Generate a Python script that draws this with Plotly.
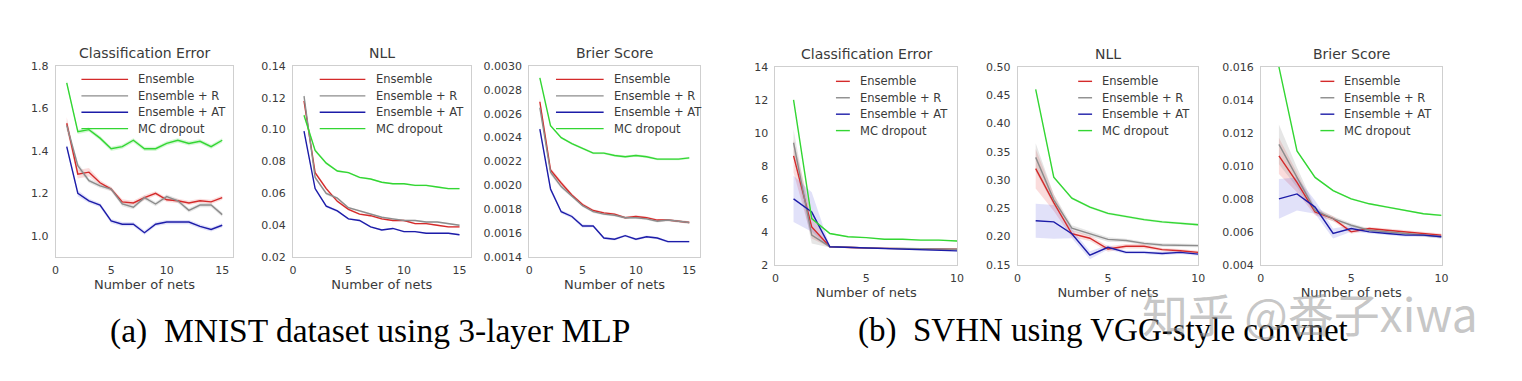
import plotly.graph_objects as go

W, H = 1522, 381

# ---------------- data ----------------
mnist_x = list(range(1, 16))
svhn_x = list(range(1, 11))
series_names = ["Ensemble", "Ensemble + R", "Ensemble + AT", "MC dropout"]

# MNIST classification error
mn_err_ens = [1.53, 1.29, 1.30, 1.25, 1.22, 1.16, 1.155, 1.18, 1.20, 1.17, 1.165, 1.155, 1.165, 1.16, 1.18]
mn_err_r = [1.52, 1.33, 1.26, 1.235, 1.22, 1.15, 1.135, 1.18, 1.15, 1.185, 1.165, 1.12, 1.145, 1.145, 1.10]
mn_err_at = [1.42, 1.20, 1.165, 1.145, 1.07, 1.055, 1.055, 1.015, 1.055, 1.065, 1.065, 1.065, 1.045, 1.03, 1.05]
mn_err_mc = [1.72, 1.49, 1.50, 1.46, 1.41, 1.42, 1.45, 1.41, 1.41, 1.435, 1.45, 1.435, 1.445, 1.42, 1.45]
mn_err_ens_sd = [0.03, 0.02, 0.02, 0.012, 0.01, 0.012, 0.01, 0.012, 0.01, 0.01, 0.01, 0.01, 0.01, 0.01, 0.01]
mn_err_r_sd = [0.02, 0.015, 0.01, 0.01, 0.01, 0.01, 0.01, 0.01, 0.01, 0.01, 0.01, 0.01, 0.01, 0.01, 0.01]
mn_err_at_sd = [0.01, 0.015, 0.01, 0.01, 0.01, 0.01, 0.01, 0.01, 0.01, 0.01, 0.01, 0.01, 0.01, 0.01, 0.01]
mn_err_mc_sd = [0.01, 0.01, 0.01, 0.01, 0.01, 0.01, 0.01, 0.01, 0.01, 0.01, 0.01, 0.01, 0.01, 0.01, 0.01]

# MNIST NLL
mn_nll_ens = [0.118, 0.073, 0.063, 0.055, 0.050, 0.047, 0.046, 0.044, 0.043, 0.043, 0.041, 0.041, 0.040, 0.039, 0.039]
mn_nll_r = [0.121, 0.070, 0.060, 0.057, 0.051, 0.049, 0.047, 0.045, 0.044, 0.043, 0.043, 0.042, 0.042, 0.041, 0.040]
mn_nll_at = [0.099, 0.063, 0.052, 0.049, 0.044, 0.043, 0.039, 0.037, 0.038, 0.036, 0.036, 0.035, 0.035, 0.035, 0.034]
mn_nll_mc = [0.109, 0.087, 0.079, 0.074, 0.073, 0.070, 0.069, 0.067, 0.066, 0.066, 0.065, 0.065, 0.064, 0.063, 0.063]
mn_nll_ens_sd = [0.002, 0.001, 0.001, 0.0008, 0.0008, 0.0006, 0.0006, 0.0005, 0.0005, 0.0005, 0.0005, 0.0005, 0.0005, 0.0005, 0.0005]
mn_nll_r_sd = [0.002, 0.001, 0.001, 0.0008, 0.0006, 0.0006, 0.0005, 0.0005, 0.0005, 0.0005, 0.0005, 0.0005, 0.0005, 0.0005, 0.0005]
mn_nll_at_sd = [0.001, 0.001, 0.0008, 0.0008, 0.0006, 0.0006, 0.0005, 0.0005, 0.0005, 0.0005, 0.0005, 0.0005, 0.0005, 0.0005, 0.0005]
mn_nll_mc_sd = [0.001, 0.001, 0.0008, 0.0006, 0.0006, 0.0006, 0.0005, 0.0005, 0.0005, 0.0005, 0.0005, 0.0005, 0.0005, 0.0005, 0.0005]

# MNIST Brier
mn_bs_ens = [0.00270, 0.00213, 0.00202, 0.00192, 0.00184, 0.00179, 0.00177, 0.00176, 0.00173, 0.00174, 0.00173, 0.00171, 0.00171, 0.00170, 0.00169]
mn_bs_r = [0.00265, 0.00211, 0.00199, 0.00191, 0.00183, 0.00178, 0.00176, 0.00175, 0.00173, 0.00173, 0.00172, 0.00170, 0.00171, 0.00170, 0.00169]
mn_bs_at = [0.00247, 0.00197, 0.00178, 0.00174, 0.00166, 0.00166, 0.00156, 0.00155, 0.00158, 0.00155, 0.00157, 0.00156, 0.00153, 0.00153, 0.00153]
mn_bs_mc = [0.00290, 0.00250, 0.00240, 0.00235, 0.00231, 0.00227, 0.00227, 0.00225, 0.00224, 0.00225, 0.00224, 0.00222, 0.00222, 0.00222, 0.00223]
mn_bs_ens_sd = [0.00003, 0.00002, 0.00002, 0.000015, 0.000012, 0.00001, 0.00001, 0.00001, 0.00001, 0.00001, 0.00001, 0.00001, 0.00001, 0.00001, 0.00001]
mn_bs_r_sd = [0.00002, 0.00002, 0.000015, 0.000012, 0.00001, 0.00001, 0.00001, 0.00001, 0.00001, 0.00001, 0.00001, 0.00001, 0.00001, 0.00001, 0.00001]
mn_bs_at_sd = [0.00002, 0.00002, 0.000015, 0.000015, 0.000015, 0.00001, 0.00001, 0.00001, 0.00001, 0.00001, 0.00001, 0.00001, 0.00001, 0.00001, 0.00001]
mn_bs_mc_sd = [0.00001, 0.00001, 0.00001, 0.00001, 0.00001, 0.00001, 0.00001, 0.00001, 0.00001, 0.00001, 0.00001, 0.00001, 0.00001, 0.00001, 0.00001]

# SVHN classification error
sv_err_ens = [8.6, 4.3, 3.1, 3.05, 3.02, 3.0, 2.98, 2.97, 2.96, 2.95]
sv_err_r = [9.4, 3.8, 3.1, 3.06, 3.03, 3.0, 2.99, 2.97, 2.96, 2.95]
sv_err_at = [6.0, 5.2, 3.1, 3.07, 3.02, 2.98, 2.95, 2.92, 2.9, 2.85]
sv_err_mc = [12.0, 4.8, 3.9, 3.7, 3.65, 3.55, 3.55, 3.5, 3.5, 3.45]
sv_err_ens_sd = [1.0, 0.7, 0.05, 0.04, 0.04, 0.03, 0.03, 0.03, 0.03, 0.03]
sv_err_r_sd = [0.8, 0.5, 0.05, 0.04, 0.04, 0.03, 0.03, 0.03, 0.03, 0.03]
sv_err_at_sd = [1.4, 1.2, 0.05, 0.04, 0.04, 0.03, 0.03, 0.03, 0.03, 0.03]
sv_err_mc_sd = [0.05, 0.05, 0.04, 0.03, 0.03, 0.03, 0.03, 0.03, 0.03, 0.03]

# SVHN NLL
sv_nll_ens = [0.320, 0.260, 0.205, 0.197, 0.178, 0.183, 0.183, 0.177, 0.175, 0.172]
sv_nll_r = [0.340, 0.265, 0.215, 0.205, 0.195, 0.193, 0.188, 0.185, 0.184, 0.184]
sv_nll_at = [0.228, 0.226, 0.205, 0.167, 0.181, 0.172, 0.172, 0.170, 0.172, 0.169]
sv_nll_mc = [0.460, 0.305, 0.268, 0.252, 0.241, 0.235, 0.230, 0.226, 0.223, 0.221]
sv_nll_ens_sd = [0.035, 0.015, 0.006, 0.005, 0.005, 0.004, 0.004, 0.003, 0.003, 0.003]
sv_nll_r_sd = [0.025, 0.010, 0.005, 0.004, 0.004, 0.003, 0.003, 0.003, 0.003, 0.003]
sv_nll_at_sd = [0.030, 0.030, 0.008, 0.007, 0.004, 0.003, 0.003, 0.003, 0.003, 0.003]
sv_nll_mc_sd = [0.002, 0.002, 0.002, 0.002, 0.002, 0.002, 0.002, 0.002, 0.002, 0.002]

# SVHN Brier
sv_bs_ens = [0.0106, 0.0090, 0.0072, 0.0068, 0.0060, 0.0062, 0.0061, 0.0060, 0.0059, 0.0058]
sv_bs_r = [0.0113, 0.0093, 0.0073, 0.0068, 0.0064, 0.0061, 0.0060, 0.0059, 0.0058, 0.0057]
sv_bs_at = [0.0080, 0.0083, 0.0075, 0.0059, 0.0062, 0.0060, 0.0059, 0.0058, 0.0058, 0.0057]
sv_bs_mc = [0.0160, 0.0109, 0.0093, 0.0085, 0.0080, 0.0077, 0.0075, 0.0073, 0.0071, 0.0070]
sv_bs_ens_sd = [0.0011, 0.0006, 0.0002, 0.00015, 0.00012, 0.0001, 0.0001, 0.0001, 0.0001, 0.0001]
sv_bs_r_sd = [0.0012, 0.0006, 0.0002, 0.00015, 0.00012, 0.0001, 0.0001, 0.0001, 0.0001, 0.0001]
sv_bs_at_sd = [0.0012, 0.0010, 0.0004, 0.0003, 0.0002, 0.0001, 0.0001, 0.0001, 0.0001, 0.0001]
sv_bs_mc_sd = [0.00005, 0.00005, 0.00005, 0.00005, 0.00005, 0.00005, 0.00005, 0.00005, 0.00005, 0.00005]

panel_titles = ["Classification Error", "NLL", "Brier Score", "Classification Error", "NLL", "Brier Score"]
x_label = "Number of nets"
caption_a = "(a)  MNIST dataset using 3-layer MLP"
caption_b = "(b)  SVHN using VGG-style convnet"
watermark = "知乎 @番子xiwa"

# ---------------- style ----------------
line_colors = ["#d42a2a", "#8c8c8c", "#1c1ca8", "#33d633"]
band_colors = ["rgba(230,60,60,0.18)", "rgba(140,140,140,0.22)", "rgba(70,70,220,0.16)", "rgba(60,220,60,0.22)"]
FONT = "DejaVu Sans"
TXT = "#3a3a3a"

# layout geometry (pixels): plot box, legend sample start/end, legend text x, first row y, row step
panels = [
    dict(x=mnist_x, means=[mn_err_ens, mn_err_r, mn_err_at, mn_err_mc], sds=[mn_err_ens_sd, mn_err_r_sd, mn_err_at_sd, mn_err_mc_sd],
         yr=[0.9, 1.8], yt=[1.0, 1.2, 1.4, 1.6, 1.8], yfmt=".1f", xr=[0, 16], xt=[0, 5, 10, 15],
         px=(52, 231), py=(62, 260), samp=(78, 125), leg_text=133, row1=76, step=17),
    dict(x=mnist_x, means=[mn_nll_ens, mn_nll_r, mn_nll_at, mn_nll_mc], sds=[mn_nll_ens_sd, mn_nll_r_sd, mn_nll_at_sd, mn_nll_mc_sd],
         yr=[0.02, 0.14], yt=[0.02, 0.04, 0.06, 0.08, 0.10, 0.12, 0.14], yfmt=".2f", xr=[0, 16], xt=[0, 5, 10, 15],
         px=(291, 470), py=(62, 260), samp=(318, 364), leg_text=373, row1=76, step=17),
    dict(x=mnist_x, means=[mn_bs_ens, mn_bs_r, mn_bs_at, mn_bs_mc], sds=[mn_bs_ens_sd, mn_bs_r_sd, mn_bs_at_sd, mn_bs_mc_sd],
         yr=[0.0014, 0.0030], yt=[0.0014, 0.0016, 0.0018, 0.0020, 0.0022, 0.0024, 0.0026, 0.0028, 0.0030], yfmt=".4f",
         xr=[0, 16], xt=[0, 5, 10, 15], px=(529, 701), py=(62, 260), samp=(556, 604), leg_text=612, row1=76, step=17),
    dict(x=svhn_x, means=[sv_err_ens, sv_err_r, sv_err_at, sv_err_mc], sds=[sv_err_ens_sd, sv_err_r_sd, sv_err_at_sd, sv_err_mc_sd],
         yr=[2, 14], yt=[2, 4, 6, 8, 10, 12, 14], yfmt="d", xr=[0, 10], xt=[0, 5, 10],
         px=(777, 960), py=(63, 268), samp=(838, 852), leg_text=860, row1=78, step=17),
    dict(x=svhn_x, means=[sv_nll_ens, sv_nll_r, sv_nll_at, sv_nll_mc], sds=[sv_nll_ens_sd, sv_nll_r_sd, sv_nll_at_sd, sv_nll_mc_sd],
         yr=[0.15, 0.50], yt=[0.15, 0.20, 0.25, 0.30, 0.35, 0.40, 0.45, 0.50], yfmt=".2f", xr=[0, 10], xt=[0, 5, 10],
         px=(1021, 1203), py=(63, 268), samp=(1082, 1096), leg_text=1104, row1=78, step=17),
    dict(x=svhn_x, means=[sv_bs_ens, sv_bs_r, sv_bs_at, sv_bs_mc], sds=[sv_bs_ens_sd, sv_bs_r_sd, sv_bs_at_sd, sv_bs_mc_sd],
         yr=[0.004, 0.016], yt=[0.004, 0.006, 0.008, 0.010, 0.012, 0.014, 0.016], yfmt=".3f", xr=[0, 10], xt=[0, 5, 10],
         px=(1266, 1448), py=(63, 268), samp=(1326, 1340), leg_text=1348, row1=78, step=17),
]

fig = go.Figure()
layout = dict(width=W, height=H, margin=dict(l=0, r=0, t=0, b=0), paper_bgcolor="white",
              plot_bgcolor="white", font=dict(family=FONT, color=TXT, size=11), showlegend=False,
              annotations=[], shapes=[])

for i, p in enumerate(panels):
    k = i + 1
    xa = "x" if k == 1 else f"x{k}"
    ya = "y" if k == 1 else f"y{k}"
    x = p["x"]
    # shaded bands (mean +/- spread)
    for j in range(4):
        m, s = p["means"][j], p["sds"][j]
        up = [a + b for a, b in zip(m, s)]
        lo = [a - b for a, b in zip(m, s)]
        fig.add_trace(go.Scatter(x=x + x[::-1], y=up + lo[::-1], fill="toself", fillcolor=band_colors[j],
                                 line=dict(width=0), mode="lines", hoverinfo="skip", showlegend=False,
                                 xaxis=xa, yaxis=ya))
    for j in range(4):
        fig.add_trace(go.Scatter(x=x, y=p["means"][j], mode="lines", name=series_names[j],
                                 line=dict(color=line_colors[j], width=1.4), showlegend=False,
                                 xaxis=xa, yaxis=ya))
    x0, x1 = p["px"]
    y0, y1 = p["py"]
    axkw = dict(showgrid=False, zeroline=False, showline=True, linecolor="#cfcfcf", linewidth=1, mirror=True,
                ticks="", tickfont=dict(family=FONT, size=11, color=TXT))
    layout["xaxis" if k == 1 else f"xaxis{k}"] = dict(domain=[x0 / W, x1 / W], range=p["xr"], tickvals=p["xt"],
                                                       anchor=ya,
                                                       title=dict(text=x_label, font=dict(size=13, color=TXT), standoff=2),
                                                       ticklabelstandoff=3, **axkw)
    layout["yaxis" if k == 1 else f"yaxis{k}"] = dict(domain=[1 - y1 / H, 1 - y0 / H], range=p["yr"], tickvals=p["yt"],
                                                       tickformat=p["yfmt"], anchor=xa, ticklabelstandoff=4, **axkw)
    # legend (line sample + label) per panel
    for j in range(4):
        ry = 1 - (p["row1"] + j * p["step"]) / H
        layout["shapes"].append(dict(type="line", xref="paper", yref="paper", x0=p["samp"][0] / W,
                                     x1=p["samp"][1] / W, y0=ry, y1=ry,
                                     line=dict(color=line_colors[j], width=1.4)))
        layout["annotations"].append(dict(text=series_names[j], x=p["leg_text"] / W, y=ry, xref="paper",
                                          yref="paper", xanchor="left", yanchor="middle", showarrow=False,
                                          font=dict(family=FONT, size=11.5, color=TXT)))
    layout["annotations"].append(dict(text=panel_titles[i], x=(x0 + x1) / 2 / W, y=1 - (y0 - 3) / H,
                                      xref="paper", yref="paper", xanchor="center", yanchor="bottom",
                                      showarrow=False, font=dict(family=FONT, size=14, color=TXT)))

layout["annotations"].append(dict(text=caption_a, x=369 / W, y=1 - 336 / H, xref="paper", yref="paper",
                                  xanchor="center", yanchor="middle", showarrow=False,
                                  font=dict(family="Liberation Serif", size=33.5, color="black")))
layout["annotations"].append(dict(text=caption_b, x=1107 / W, y=1 - 336 / H, xref="paper", yref="paper",
                                  xanchor="center", yanchor="middle", showarrow=False,
                                  font=dict(family="Liberation Serif", size=33, color="black")))
layout["annotations"].append(dict(text=watermark, x=1316 / W, y=1 - 317 / H, xref="paper", yref="paper",
                                  xanchor="center", yanchor="middle", showarrow=False,
                                  font=dict(family="Noto Sans CJK SC", size=46, color="rgba(150,150,150,0.55)")))

fig.update_layout(**layout)
fig.write_html("out.html", config={"displayModeBar": False},
               post_script="document.body.style.margin='0';document.body.style.overflow='hidden';")
